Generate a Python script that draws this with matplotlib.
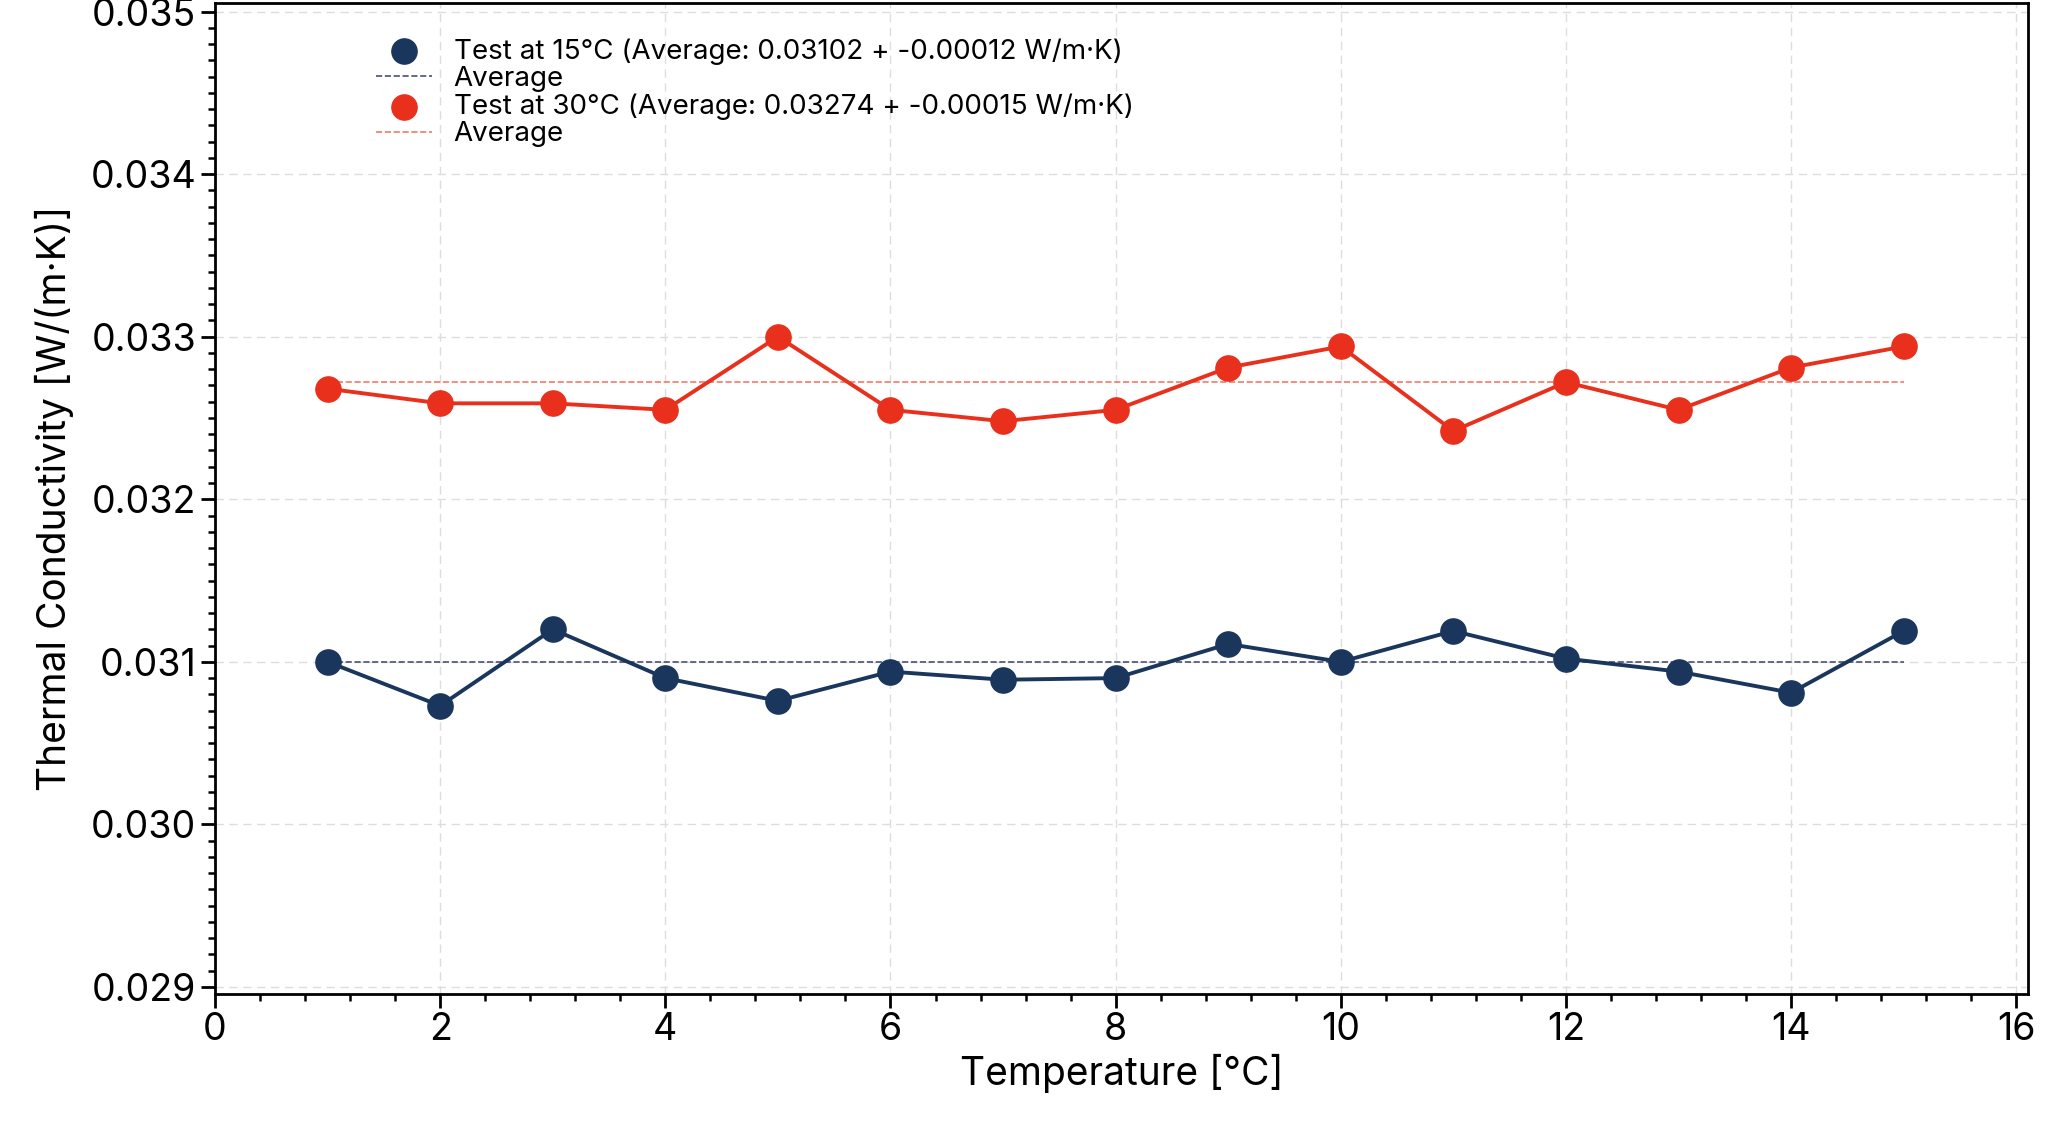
import matplotlib
matplotlib.use("Agg")
import matplotlib.pyplot as plt
from matplotlib.ticker import MultipleLocator

plt.rcParams['font.family'] = ['Inter', 'DejaVu Sans']

x = list(range(1, 16))
k15 = [0.0310, 0.03073, 0.0312, 0.0309, 0.03076, 0.03094, 0.03089, 0.0309,
       0.03111, 0.0310, 0.03119, 0.03102, 0.03094, 0.03081, 0.03119]
k30 = [0.03268, 0.03259, 0.03259, 0.03255, 0.0330, 0.03255, 0.03248, 0.03255,
       0.03281, 0.03294, 0.03242, 0.03272, 0.03255, 0.03281, 0.03294]
avg15 = 0.03100
avg30 = 0.03272
lab15 = "Test at 15°C (Average: 0.03102 + -0.00012 W/m·K)"
lab30 = "Test at 30°C (Average: 0.03274 + -0.00015 W/m·K)"

navy = "#1b365d"
red = "#e8301c"

fig = plt.figure(figsize=(20.48, 11.29), dpi=100)
ax = fig.add_axes([0.105, 0.12, 0.885, 0.877])

ax.plot(x, k15, '-', color=navy, lw=2.8, zorder=3)
ax.scatter(x, k15, s=330, color=navy, zorder=4, label=lab15)
ax.plot([x[0], x[-1]], [avg15, avg15], '--', color="#4a4f7a", lw=1.2, label="Average", zorder=2)
ax.plot(x, k30, '-', color=red, lw=2.8, zorder=3)
ax.scatter(x, k30, s=330, color=red, zorder=4, label=lab30)
ax.plot([x[0], x[-1]], [avg30, avg30], '--', color="#f07a6a", lw=1.2, label="Average", zorder=2)

ax.set_xlim(0, 16.1)
ax.set_ylim(0.02896, 0.03505)
ax.xaxis.set_major_locator(MultipleLocator(2))
ax.xaxis.set_minor_locator(MultipleLocator(0.4))
ax.yaxis.set_major_locator(MultipleLocator(0.001))
ax.yaxis.set_minor_locator(MultipleLocator(0.0001))
ax.tick_params(which='major', length=10, width=2, labelsize=27)
ax.tick_params(which='minor', length=5, width=1.8)
for s in ax.spines.values():
    s.set_linewidth(2)
ax.grid(True, which='major', ls=(0, (6, 4)), color="#dddddd", lw=1)
ax.set_axisbelow(True)
ax.set_xlabel("Temperature [°C]", fontsize=28, labelpad=4)
ax.set_ylabel("Thermal Conductivity [W/(m·K)]", fontsize=28, labelpad=12)
ax.legend(loc='upper left', bbox_to_anchor=(0.075, 0.99), frameon=False, fontsize=20,
          handlelength=2, labelspacing=0.05, handletextpad=0.8)
fig.savefig("out.png", dpi=100)
